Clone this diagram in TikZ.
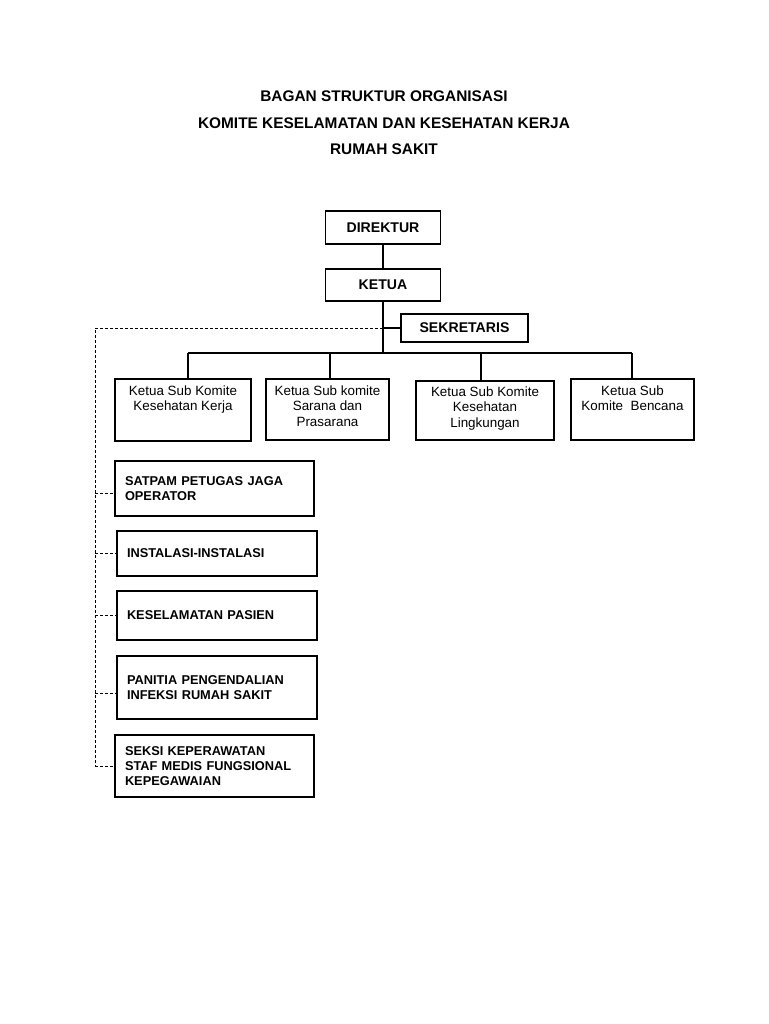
\documentclass[tikz,border=0pt]{standalone}
\usepackage{fontspec}
\setmainfont{Liberation Sans}
\begin{document}
\begin{tikzpicture}[x=1pt,y=-1pt,
  box/.style={draw, line width=1.3pt, inner sep=0pt},
  titletext/.style={font=\bfseries\fontsize{15.4}{18}\selectfont, inner sep=0pt},
  capt/.style={font=\bfseries\fontsize{14.1}{16}\selectfont},
  subt/.style={font=\fontsize{13.4}{15.7}\selectfont, align=center, inner sep=0pt, anchor=north},
  lbox/.style={draw, line width=1.3pt, inner xsep=10pt, inner ysep=0pt, align=left,
     font=\bfseries\fontsize{12.8}{15}\selectfont},
  conn/.style={line width=1.8pt},
  dconn/.style={line width=0.9pt, dash pattern=on 3pt off 2pt}
]
\fill[white] (0,0) rectangle (768,1024);
\useasboundingbox (0,0) rectangle (768,1024);

% titles
\node[titletext] (t1) at (384,96) {BAGAN STRUKTUR ORGANISASI};
\node[titletext] (t2) at (384,123) {KOMITE KESELAMATAN DAN KESEHATAN KERJA};
\node[titletext] (t3) at (384,149) {RUMAH SAKIT};

% top boxes
\node[box, capt, minimum width=115pt, minimum height=33pt] (dir) at (383,227.5) {DIREKTUR};
\node[box, capt, minimum width=115pt, minimum height=32pt] (ket) at (383,285) {KETUA};
\node[box, capt, minimum width=127pt, minimum height=28pt] (sek) at (464.5,328) {SEKRETARIS};

% sub committee boxes
\node[box, minimum width=136pt, minimum height=62pt] (b1) at (183,410) {};
\node[box, minimum width=123pt, minimum height=61pt] (b2) at (327.5,409.5) {};
\node[box, minimum width=138pt, minimum height=59pt] (b3) at (485,410.5) {};
\node[box, minimum width=123pt, minimum height=61pt] (b4) at (632.5,409.5) {};
\node[subt] (b1t) at ([yshift=-7pt]b1.north) {Ketua Sub Komite\\Kesehatan Kerja};
\node[subt] (b2t) at ([yshift=-7pt]b2.north) {Ketua Sub komite\\Sarana dan\\Prasarana};
\node[subt] (b3t) at ([yshift=-6pt]b3.north) {Ketua Sub Komite\\Kesehatan\\Lingkungan};
\node[subt] (b4t) at ([yshift=-7pt]b4.north) {Ketua Sub\\Komite\ \ Bencana};

% left boxes
\node[lbox, text width=179pt, minimum height=55pt] (s1) at (214.5,488.5) {SATPAM PETUGAS JAGA\\OPERATOR};
\node[lbox, text width=180pt, minimum height=45pt] (s2) at (217,553.5) {INSTALASI-INSTALASI};
\node[lbox, text width=180pt, minimum height=49pt] (s3) at (217,615.5) {KESELAMATAN PASIEN};
\node[lbox, text width=180pt, minimum height=63pt] (s4) at (217,687.5) {PANITIA PENGENDALIAN\\INFEKSI RUMAH SAKIT};
\node[lbox, text width=179pt, minimum height=62pt] (s5) at (214.5,766) {SEKSI KEPERAWATAN\\STAF MEDIS FUNGSIONAL\\KEPEGAWAIAN};

% solid connectors
\draw[conn] (dir.south) -- (ket.north);
\coordinate (j) at (ket.south |- sek.west);
\coordinate (bus) at (ket.south |- 0,353);
\coordinate (d1) at (188,353);
\coordinate (d2) at (330,353);
\coordinate (d3) at (481,353);
\coordinate (d4) at (632,353);
\draw[conn] (ket.south) -- (bus);
\draw[conn] (j) -- (sek.west);
\draw[conn] (d1) -- (d4);
\draw[conn] (d1) -- (d1 |- b1.north);
\draw[conn] (d2) -- (d2 |- b2.north);
\draw[conn] (d3) -- (d3 |- b3.north);
\draw[conn] (d4) -- (d4 |- b4.north);

% dashed connectors
\coordinate (dc) at (95,328);
\coordinate (de) at (95,766);
\coordinate (e1) at (95,493);
\coordinate (e4) at (95,693);
\draw[dconn] (j) -- (dc) -- (de);
\draw[dconn] (e1) -- (s1.west |- e1);
\draw[dconn] (dc |- s2.west) -- (s2.west);
\draw[dconn] (dc |- s3.west) -- (s3.west);
\draw[dconn] (e4) -- (s4.west |- e4);
\draw[dconn] (de) -- (s5.west |- de);
\end{tikzpicture}
\end{document}
